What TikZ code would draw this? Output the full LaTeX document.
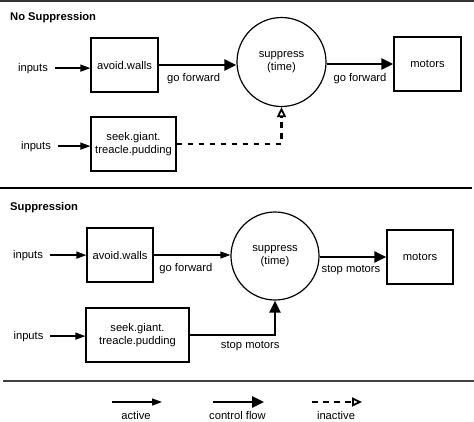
\documentclass[tikz,border=0pt]{standalone}
\usepackage{fontspec}
\setmainfont{Liberation Sans}
\usetikzlibrary{arrows.meta, calc}
\newcommand{\diagfont}{\fontsize{11.2}{13.6}\selectfont}

\begin{document}
\begin{tikzpicture}[x=1pt, y=-1pt, font=\diagfont,
	box/.style={draw, line width=1.2pt, minimum height=54pt, inner sep=2pt, align=center},
	supp/.style={draw, circle, line width=1.2pt, minimum size=#1, inner sep=0pt, align=center},
	txt/.style={inner sep=0pt, outer sep=0pt},
	src/.style={inner sep=0pt, outer sep=7pt},
	title/.style={inner sep=0pt, anchor=base west, font=\diagfont\bfseries},
	active/.style={line width=1.3pt, -{Triangle[length=10pt, width=7pt]}},
	control/.style={line width=2.6pt, -{Triangle[length=12pt, width=11pt]}},
	inactive/.style={line width=2.2pt, dash pattern=on 5.5pt off 5.5pt,
		-{Triangle[open, length=10pt, width=9pt, line width=1.8pt]}}]

	\useasboundingbox (0,0) rectangle (474,421);

	% panel rules
	\draw[black!80, line width=2pt] (0,1) -- (474,1);
	\draw[line width=1.8pt] (0,188) -- (472,188);
	\draw[black!75, line width=2.2pt] (3,381) -- (474,381);

	% no suppression
	\node[title] (title1) at (10,20) {No Suppression};

	\node[src, anchor=base] (in1a) at (33,71) {inputs};
	\node[src, anchor=base] (in1b) at (36,149) {inputs};
	\node[box, minimum width=67pt] (walls1) at (124.5,65) {avoid.walls};
	\node[box, minimum width=85pt] (seek1) at (133.5,144) {seek.giant.\\treacle.pudding};
	\node[supp=89pt] (supp1) at (281.5,62) {suppress\\(time)};
	\node[box, minimum width=67pt] (motors1) at (427.5,64) {motors};

	\draw[active] (in1a.east) -- (in1a.east -| walls1.west);
	\draw[active] (in1b.east) -- (in1b.east -| seek1.west);
	\draw[control] (walls1.east) -- (walls1.east -| supp1.west)
		node[txt, pos=.45, below=8pt] {go forward};
	\draw[control] (motors1.west -| supp1.east) -- (motors1.west)
		node[txt, midway, below=9pt] {go forward};
	\draw[inactive] (seek1.east) -| (supp1.south);

	% suppression
	\node[title] (title2) at (10,210) {Suppression};

	\node[src, anchor=base] (in2a) at (28,258) {inputs};
	\node[src, anchor=base] (in2b) at (28.5,339) {inputs};
	\node[box, minimum width=66pt] (walls2) at (120,255) {avoid.walls};
	\node[box, minimum width=103pt] (seek2) at (137.5,335) {seek.giant.\\treacle.pudding};
	\node[supp=88pt] (supp2) at (275,256) {suppress\\(time)};
	\node[box, minimum width=66pt] (motors2) at (420,257) {motors};

	\draw[active] (in2a.east) -- (in2a.east -| walls2.west);
	\draw[active] (in2b.east) -- (in2b.east -| seek2.west);
	\draw[active] (walls2.east) -- (walls2.east -| supp2.west)
		node[txt, pos=.42, below=8pt] {go forward};
	\draw[control] (motors2.west -| supp2.east) -- (motors2.west)
		node[txt, pos=.47, below=8pt] {stop motors};
	\draw[control] (seek2.east) -| (supp2.south)
		node[txt, pos=.355, below=6pt] {stop motors};

	% legend
	\node[txt, anchor=base] (lgact) at (136,419.5) {active};
	\node[txt, anchor=base] (lgctl) at (237.5,419.5) {control flow};
	\node[txt, anchor=base] (lgina) at (336,419.5) {inactive};

	\coordinate (actA) at (112,402);
	\coordinate (actB) at (162,402);
	\coordinate (ctlA) at (213,402);
	\coordinate (ctlB) at (264,402);
	\coordinate (inaA) at (312,402);
	\coordinate (inaB) at (362,402);
	\draw[active] (actA) -- (actB);
	\draw[control] (ctlA) -- (ctlB);
	\draw[inactive] (inaA) -- (inaB);

\end{tikzpicture}
\end{document}
